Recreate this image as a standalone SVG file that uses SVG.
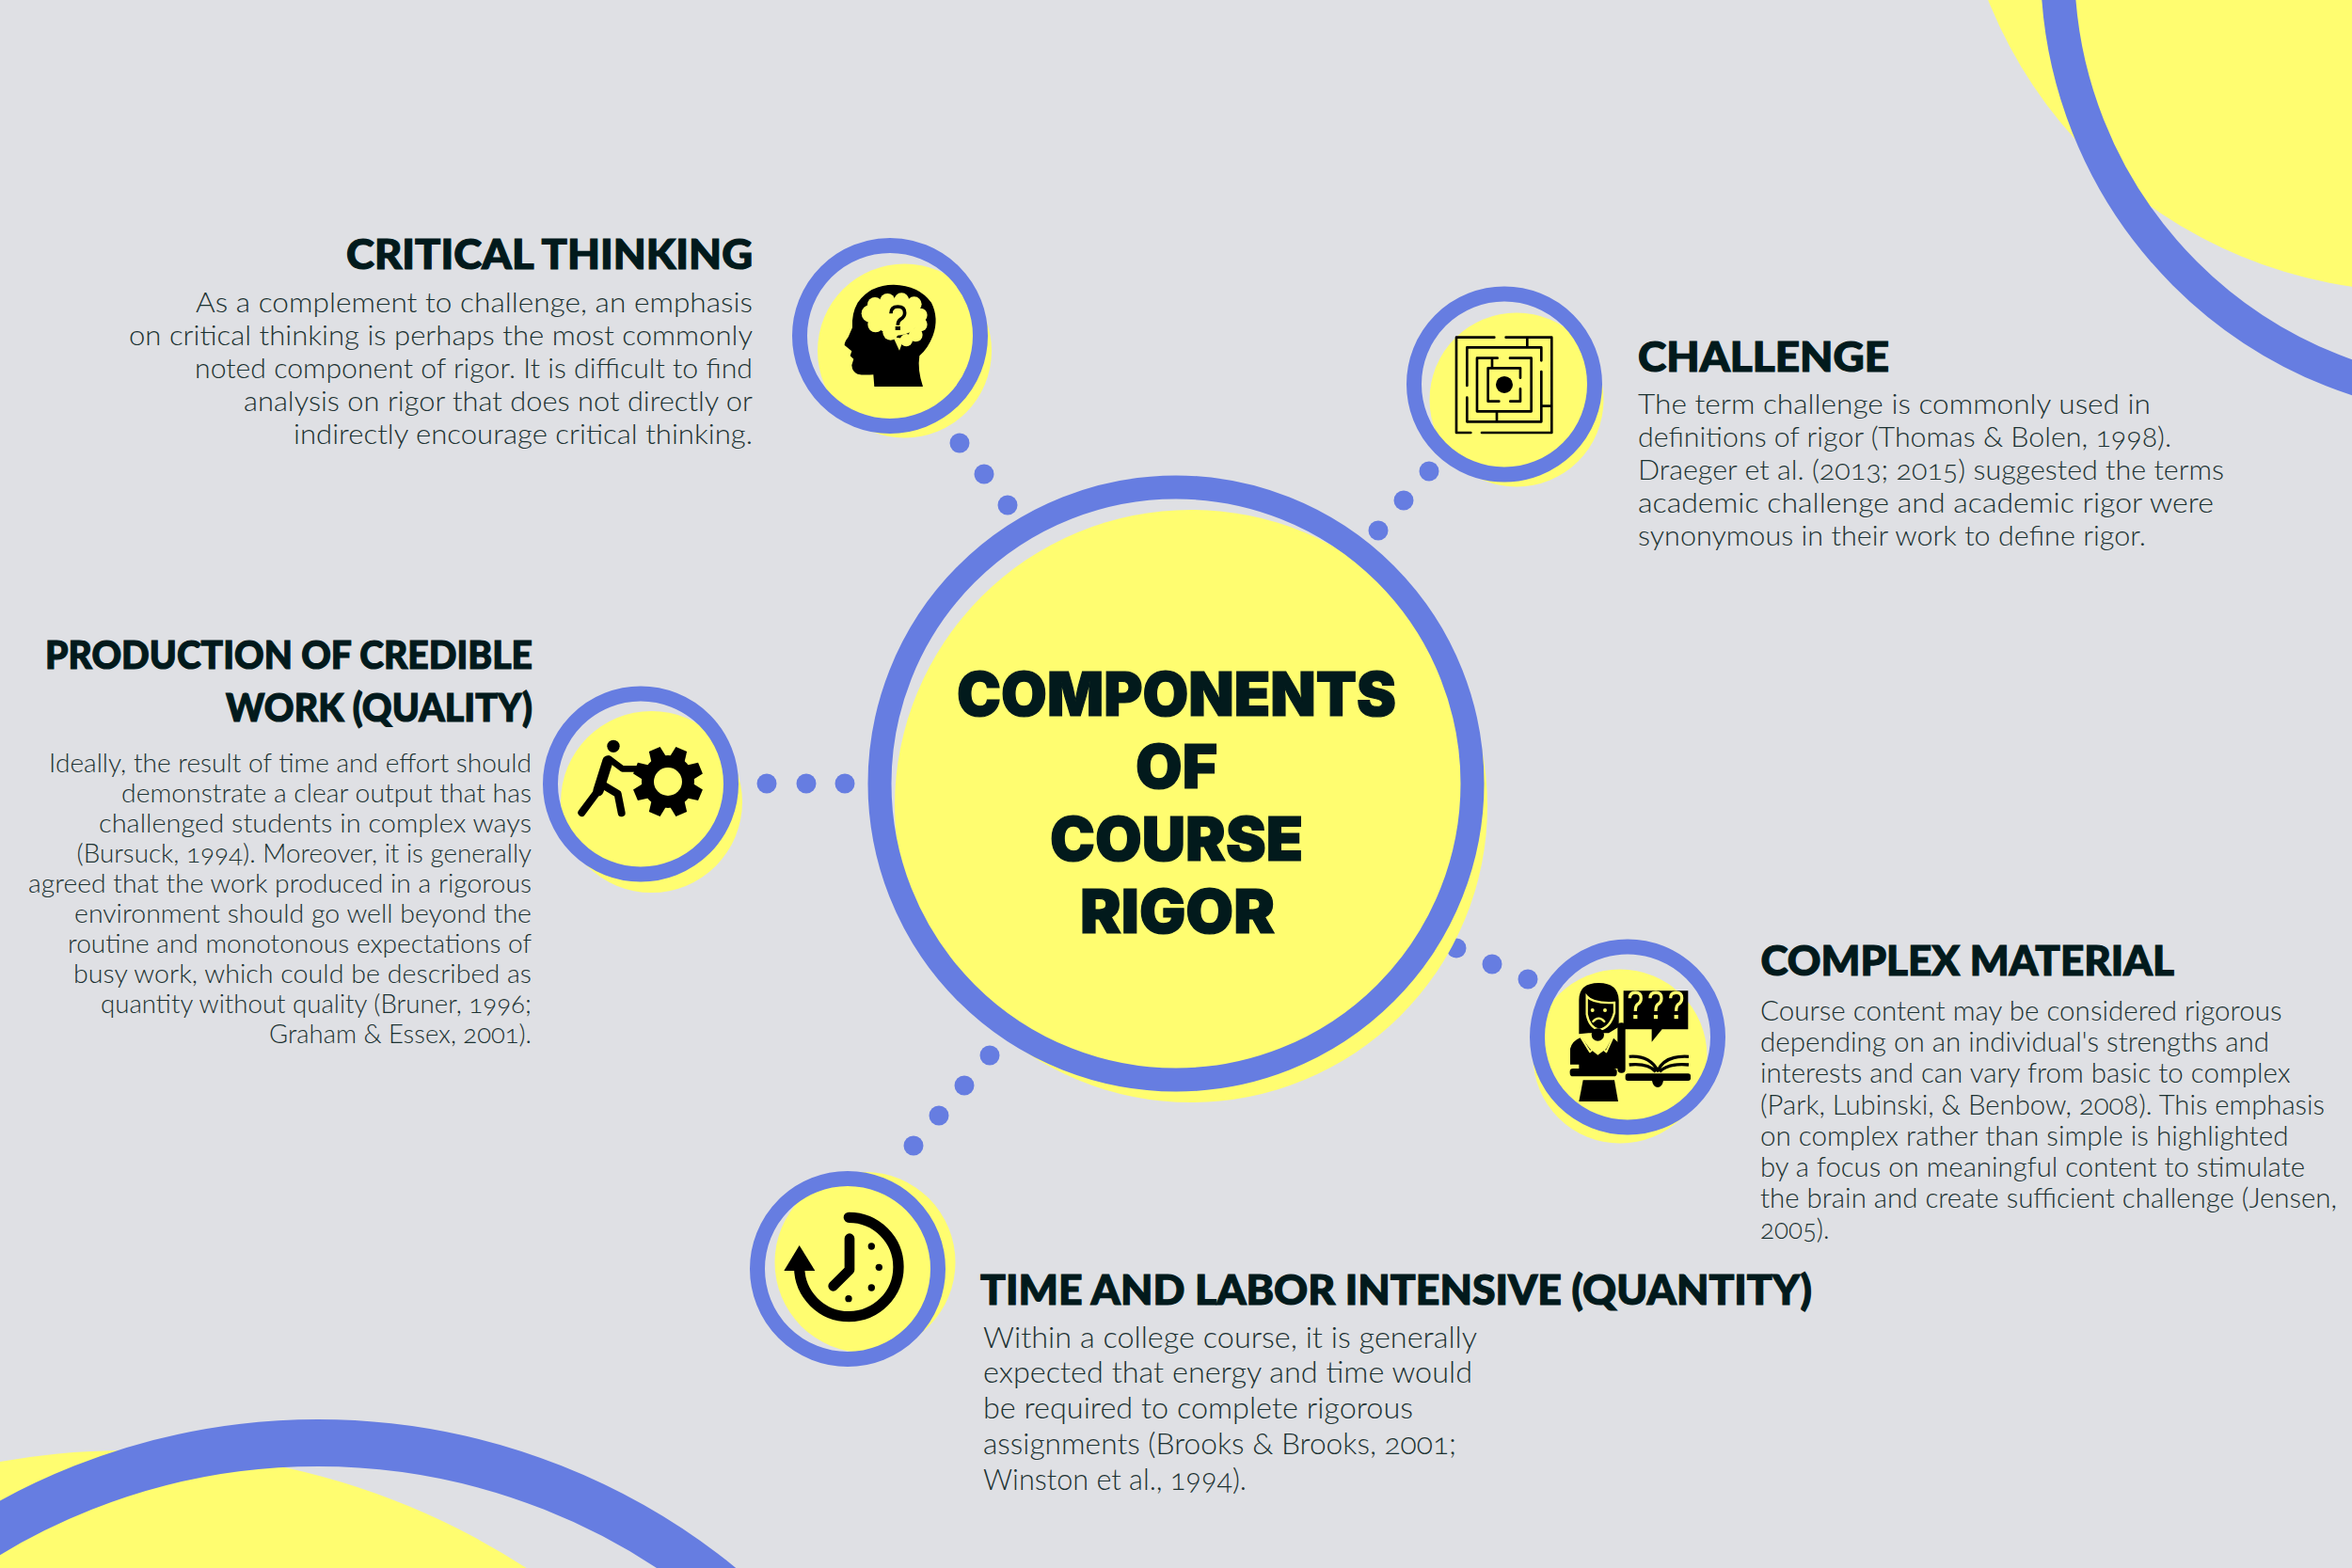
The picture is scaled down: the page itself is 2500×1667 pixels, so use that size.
<svg xmlns="http://www.w3.org/2000/svg" width="2500" height="1667" viewBox="0 0 2500 1667">
<style>
.y{fill:#fffd70}
.ring{fill:none;stroke:#667de1}
.dot{fill:#667de1}
.t{font-family:"Lato","Liberation Sans",sans-serif;font-weight:900;fill:#021a1c;stroke:#021a1c;stroke-width:1.2px}
.h{font-size:44px}
.h41{font-size:41px}
.m{font-size:65px;font-family:"Inter","Lato",sans-serif}
.b{font-family:"Lato","Liberation Sans",sans-serif;font-weight:300;fill:#1c3232;font-variant-numeric:oldstyle-nums}
.s30{font-size:30px}.s28{font-size:28px}.s31{font-size:31px}
.k{fill:#000}
.ks{fill:none;stroke:#000;stroke-linecap:round;stroke-linejoin:round}
.yo{fill:none;stroke:#fffd70;stroke-linecap:round;stroke-linejoin:round}
</style>
<defs>
<g id="tooth"><polygon class="k" points="-26,-70 -19,-112 19,-112 26,-70"/></g>
<g id="qm"><path class="yo" stroke-width="11" d="M-20,-38 Q-20,-58 0,-58 Q20,-58 20,-38 Q20,-24 7,-16 Q0,-10 0,8" style="stroke-linecap:butt"/><rect class="y" x="-7" y="21" width="14" height="14"/></g>
</defs>
<rect width="2500" height="1667" fill="#dfe0e4"/>
<g id="corner-top-right">
<circle class="y" cx="2571" cy="-183" r="493"/>
<circle class="ring" cx="2649" cy="-36" r="462" stroke-width="36"/>
</g>
<g id="corner-bottom-left">
<circle class="y" cx="136" cy="2322" r="780"/>
<circle class="ring" cx="338" cy="2212" r="678" stroke-width="50"/>
</g>
<g id="connectors">
<circle class="dot" cx="1020" cy="471" r="10.5"/><circle class="dot" cx="1046" cy="504" r="10.5"/><circle class="dot" cx="1071" cy="537" r="10.5"/>
<circle class="dot" cx="1519" cy="501" r="10.5"/><circle class="dot" cx="1492" cy="532" r="10.5"/><circle class="dot" cx="1465" cy="564" r="10.5"/>
<circle class="dot" cx="815" cy="833" r="10.5"/><circle class="dot" cx="857" cy="833" r="10.5"/><circle class="dot" cx="898" cy="833" r="10.5"/>
<circle class="dot" cx="1548" cy="1008" r="10.5"/><circle class="dot" cx="1586" cy="1025" r="10.5"/><circle class="dot" cx="1624" cy="1041" r="10.5"/>
<circle class="dot" cx="1052" cy="1122" r="10.5"/><circle class="dot" cx="1025" cy="1154" r="10.5"/><circle class="dot" cx="998" cy="1186" r="10.5"/><circle class="dot" cx="971" cy="1218" r="10.5"/>
</g>
<g id="node-center">
<circle class="y" cx="1266" cy="857" r="315"/>
<circle class="ring" cx="1250" cy="833" r="315" stroke-width="25"/>
<text class="t m" x="1017" y="761" textLength="467" lengthAdjust="spacingAndGlyphs">COMPONENTS</text>
<text class="t m" x="1207" y="838" textLength="87" lengthAdjust="spacingAndGlyphs">OF</text>
<text class="t m" x="1116" y="915" textLength="269" lengthAdjust="spacingAndGlyphs">COURSE</text>
<text class="t m" x="1148" y="992" textLength="207" lengthAdjust="spacingAndGlyphs">RIGOR</text>
</g>
<g id="node-critical-thinking">
<circle class="y" cx="961.5" cy="373" r="92.5"/>
<circle class="ring" cx="946" cy="357" r="96" stroke-width="16"/>
<g transform="translate(800,220) scale(.3333)">
<path class="k" d="M543,573 H388 L385,535 Q350,537 335,533 Q318,528 316,505 L322,485 L311,475 L316,460 L293,441 Q292,432 305,415 L318,385 Q315,340 335,305 Q375,248 450,248 Q530,250 570,305 Q595,355 575,410 Q560,450 532,475 Q525,520 543,573 Z"/>
<g class="y"><circle cx="375" cy="340" r="28"/><circle cx="390" cy="312" r="24"/><circle cx="430" cy="300" r="24"/><circle cx="475" cy="298" r="24"/><circle cx="515" cy="310" r="24"/><circle cx="535" cy="345" r="22"/><circle cx="535" cy="375" r="22"/><circle cx="520" cy="408" r="22"/><circle cx="490" cy="425" r="20"/><circle cx="440" cy="400" r="25"/><circle cx="392" cy="375" r="25"/><ellipse cx="460" cy="355" rx="70" ry="55"/><polygon points="448,415 468,458 482,420"/></g>
<path class="ks" stroke-width="11" style="stroke-linecap:butt" d="M441,340 Q441,318 463,318 Q485,318 485,338 Q485,350 472,358 Q463,364 463,377"/>
<rect class="k" x="455" y="381" width="16" height="12"/>
</g>
<text class="t h" x="368" y="286" textLength="432" lengthAdjust="spacingAndGlyphs">CRITICAL THINKING</text>
<text class="b s30" x="208" y="331.500" textLength="592" lengthAdjust="spacingAndGlyphs">As a complement to challenge, an emphasis</text>
<text class="b s30" x="137" y="366.500" textLength="663" lengthAdjust="spacingAndGlyphs">on critical thinking is perhaps the most commonly</text>
<text class="b s30" x="207" y="401.500" textLength="593" lengthAdjust="spacingAndGlyphs">noted component of rigor. It is difficult to find</text>
<text class="b s30" x="259" y="436.500" textLength="541" lengthAdjust="spacingAndGlyphs">analysis on rigor that does not directly or</text>
<text class="b s30" x="312" y="471.500" textLength="488" lengthAdjust="spacingAndGlyphs">indirectly encourage critical thinking.</text>
</g>
<g id="node-challenge">
<circle class="y" cx="1612" cy="425" r="92.5"/>
<circle class="ring" cx="1599" cy="408.5" r="96" stroke-width="16"/>
<g transform="translate(1460,280) scale(.3333)">
<path class="ks" stroke-width="8" d="M385,236 H264 V540 H310 M345,540 H568 V236 H422 M490,236 V266 M298,390 V268 H535 V310 M535,345 V505 H298 V428 M538,455 H568 M395,302 H330 V472 H503 V302 H435 M393,472 V505 M378,302 V334 M400,440 H365 V334 H468 V365 M468,400 V440 H436"/>
<circle class="k" cx="417" cy="387" r="27"/>
</g>
<text class="t h" x="1741" y="394.500" textLength="267" lengthAdjust="spacingAndGlyphs">CHALLENGE</text>
<text class="b s30" x="1741" y="440" textLength="545" lengthAdjust="spacingAndGlyphs">The term challenge is commonly used in</text>
<text class="b s30" x="1741" y="475" textLength="567" lengthAdjust="spacingAndGlyphs">definitions of rigor (Thomas &amp; Bolen, 1998).</text>
<text class="b s30" x="1741" y="510" textLength="623" lengthAdjust="spacingAndGlyphs">Draeger et al. (2013; 2015) suggested the terms</text>
<text class="b s30" x="1741" y="545" textLength="612" lengthAdjust="spacingAndGlyphs">academic challenge and academic rigor were</text>
<text class="b s30" x="1741" y="580" textLength="540" lengthAdjust="spacingAndGlyphs">synonymous in their work to define rigor.</text>
</g>
<g id="node-production">
<circle class="y" cx="692.5" cy="852.5" r="96.5"/>
<circle class="ring" cx="681" cy="833.5" r="96" stroke-width="16"/>
<g transform="translate(560,710) scale(.3333)">
<circle class="k" cx="276" cy="250" r="20"/>
<path class="ks" stroke-width="34" d="M258,297 L228,392"/>
<path class="ks" stroke-width="20" d="M262,290 L305,322 H350"/>
<path class="ks" stroke-width="24" d="M225,395 L175,462 M245,375 L290,402 L302,463"/>
<g transform="translate(450,363)">
<use href="#tooth" transform="rotate(22.5)"/><use href="#tooth" transform="rotate(67.5)"/><use href="#tooth" transform="rotate(112.5)"/><use href="#tooth" transform="rotate(157.5)"/><use href="#tooth" transform="rotate(202.5)"/><use href="#tooth" transform="rotate(247.5)"/><use href="#tooth" transform="rotate(292.5)"/><use href="#tooth" transform="rotate(337.5)"/>
<circle class="k" r="84"/><circle class="y" r="45"/>
</g>
</g>
<text class="t h41" x="48" y="710.500" textLength="518" lengthAdjust="spacingAndGlyphs">PRODUCTION OF CREDIBLE</text>
<text class="t h41" x="240" y="766.500" textLength="326" lengthAdjust="spacingAndGlyphs">WORK (QUALITY)</text>
<text class="b s28" x="52" y="821" textLength="513" lengthAdjust="spacingAndGlyphs">Ideally, the result of time and effort should</text>
<text class="b s28" x="129" y="853" textLength="436" lengthAdjust="spacingAndGlyphs">demonstrate a clear output that has</text>
<text class="b s28" x="105" y="885" textLength="460" lengthAdjust="spacingAndGlyphs">challenged students in complex ways</text>
<text class="b s28" x="81.500" y="917" textLength="483.500" lengthAdjust="spacingAndGlyphs">(Bursuck, 1994). Moreover, it is generally</text>
<text class="b s28" x="30" y="949" textLength="535" lengthAdjust="spacingAndGlyphs">agreed that the work produced in a rigorous</text>
<text class="b s28" x="79" y="981" textLength="486" lengthAdjust="spacingAndGlyphs">environment should go well beyond the</text>
<text class="b s28" x="72" y="1013" textLength="493" lengthAdjust="spacingAndGlyphs">routine and monotonous expectations of</text>
<text class="b s28" x="78" y="1045" textLength="487" lengthAdjust="spacingAndGlyphs">busy work, which could be described as</text>
<text class="b s28" x="107" y="1077" textLength="458" lengthAdjust="spacingAndGlyphs">quantity without quality (Bruner, 1996;</text>
<text class="b s28" x="286" y="1109" textLength="279" lengthAdjust="spacingAndGlyphs">Graham &amp; Essex, 2001).</text>
</g>
<g id="node-complex-material">
<circle class="y" cx="1722" cy="1123" r="92.5"/>
<circle class="ring" cx="1730" cy="1102.5" r="96" stroke-width="16"/>
<g transform="translate(1610,980) scale(.3333)">
<path class="k" d="M205,358 V250 Q205,195 268,195 Q330,195 332,250 V335 L300,355 H235 Z"/>
<path class="k" style="stroke:#fffd70;stroke-width:7" d="M230,238 Q250,262 318,258 V290 Q305,338 270,345 Q238,338 230,295 Z"/>
<circle class="y" cx="248" cy="282" r="6"/><circle class="y" cx="288" cy="282" r="6"/>
<path class="yo" stroke-width="7" d="M250,318 Q268,298 286,318"/>
<circle class="k" cx="265" cy="360" r="20"/>
<path class="k" d="M177,455 V405 Q182,380 212,368 L240,405 L265,425 L292,405 L312,368 L330,385 V468 H205 V455 Z"/>
<path class="yo" stroke-width="6" d="M212,370 L240,415 L265,392 L292,415 L315,365"/>
<rect class="k" x="176" y="468" width="150" height="25" rx="10"/>
<polygon class="k" points="218,505 318,505 330,573 205,573"/>
<rect class="k" x="328" y="322" width="25" height="160" rx="12"/>
<path class="k" d="M347,220 H553 V343 H470 L437,383 V343 H347 Z"/>
<g transform="translate(385,278) scale(.9)"><use href="#qm"/></g><g transform="translate(450,278) scale(.9)"><use href="#qm"/></g><g transform="translate(515,278) scale(.9)"><use href="#qm"/></g>
<rect class="k" x="353" y="484" width="208" height="23" rx="8"/>
<path class="k" d="M438,507 H474 Q470,528 456,528 Q442,528 438,507 Z"/>
<path class="ks" stroke-width="10" style="stroke-linecap:butt" d="M365,430 Q430,425 456,475 Q480,425 555,430 M365,456 Q425,450 450,478 M462,478 Q490,450 555,456"/>
</g>
<text class="t h" x="1871.500" y="1036.500" textLength="439.500" lengthAdjust="spacingAndGlyphs">COMPLEX MATERIAL</text>
<text class="b s30" x="1871" y="1084.500" textLength="554.500" lengthAdjust="spacingAndGlyphs">Course content may be considered rigorous</text>
<text class="b s30" x="1871" y="1117.500" textLength="541" lengthAdjust="spacingAndGlyphs">depending on an individual's strengths and</text>
<text class="b s30" x="1871" y="1151" textLength="563.500" lengthAdjust="spacingAndGlyphs">interests and can vary from basic to complex</text>
<text class="b s30" x="1871" y="1184.500" textLength="600" lengthAdjust="spacingAndGlyphs">(Park, Lubinski, &amp; Benbow, 2008). This emphasis</text>
<text class="b s30" x="1871" y="1217.500" textLength="561.500" lengthAdjust="spacingAndGlyphs">on complex rather than simple is highlighted</text>
<text class="b s30" x="1871" y="1250.500" textLength="579" lengthAdjust="spacingAndGlyphs">by a focus on meaningful content to stimulate</text>
<text class="b s30" x="1871" y="1283.500" textLength="613" lengthAdjust="spacingAndGlyphs">the brain and create sufficient challenge (Jensen,</text>
<text class="b s30" x="1871" y="1316.500" textLength="73.500" lengthAdjust="spacingAndGlyphs">2005).</text>
</g>
<g id="node-time-labor">
<circle class="y" cx="919.500" cy="1342" r="96"/>
<circle class="ring" cx="901" cy="1349" r="96" stroke-width="16"/>
<g transform="translate(780,1230) scale(.3333)">
<path class="ks" stroke-width="34" d="M367,193 A158,158 0 1 1 209,352"/>
<polygon class="k" points="209,282 160,363 259,363"/>
<path class="ks" stroke-width="32" d="M369,260 V360 L317,412"/>
<circle class="k" cx="439" cy="285" r="11"/><circle class="k" cx="463" cy="352" r="11"/><circle class="k" cx="439" cy="417" r="11"/><circle class="k" cx="366" cy="452" r="11"/>
</g>
<text class="t h" x="1042" y="1386.500" textLength="884" lengthAdjust="spacingAndGlyphs">TIME AND LABOR INTENSIVE (QUANTITY)</text>
<text class="b s31" x="1045" y="1432.500" textLength="525" lengthAdjust="spacingAndGlyphs">Within a college course, it is generally</text>
<text class="b s31" x="1045" y="1469.500" textLength="520" lengthAdjust="spacingAndGlyphs">expected that energy and time would</text>
<text class="b s31" x="1045" y="1507.500" textLength="457" lengthAdjust="spacingAndGlyphs">be required to complete rigorous</text>
<text class="b s31" x="1045" y="1545.500" textLength="503" lengthAdjust="spacingAndGlyphs">assignments (Brooks &amp; Brooks, 2001;</text>
<text class="b s31" x="1045" y="1583.500" textLength="280" lengthAdjust="spacingAndGlyphs">Winston et al., 1994).</text>
</g>
</svg>
